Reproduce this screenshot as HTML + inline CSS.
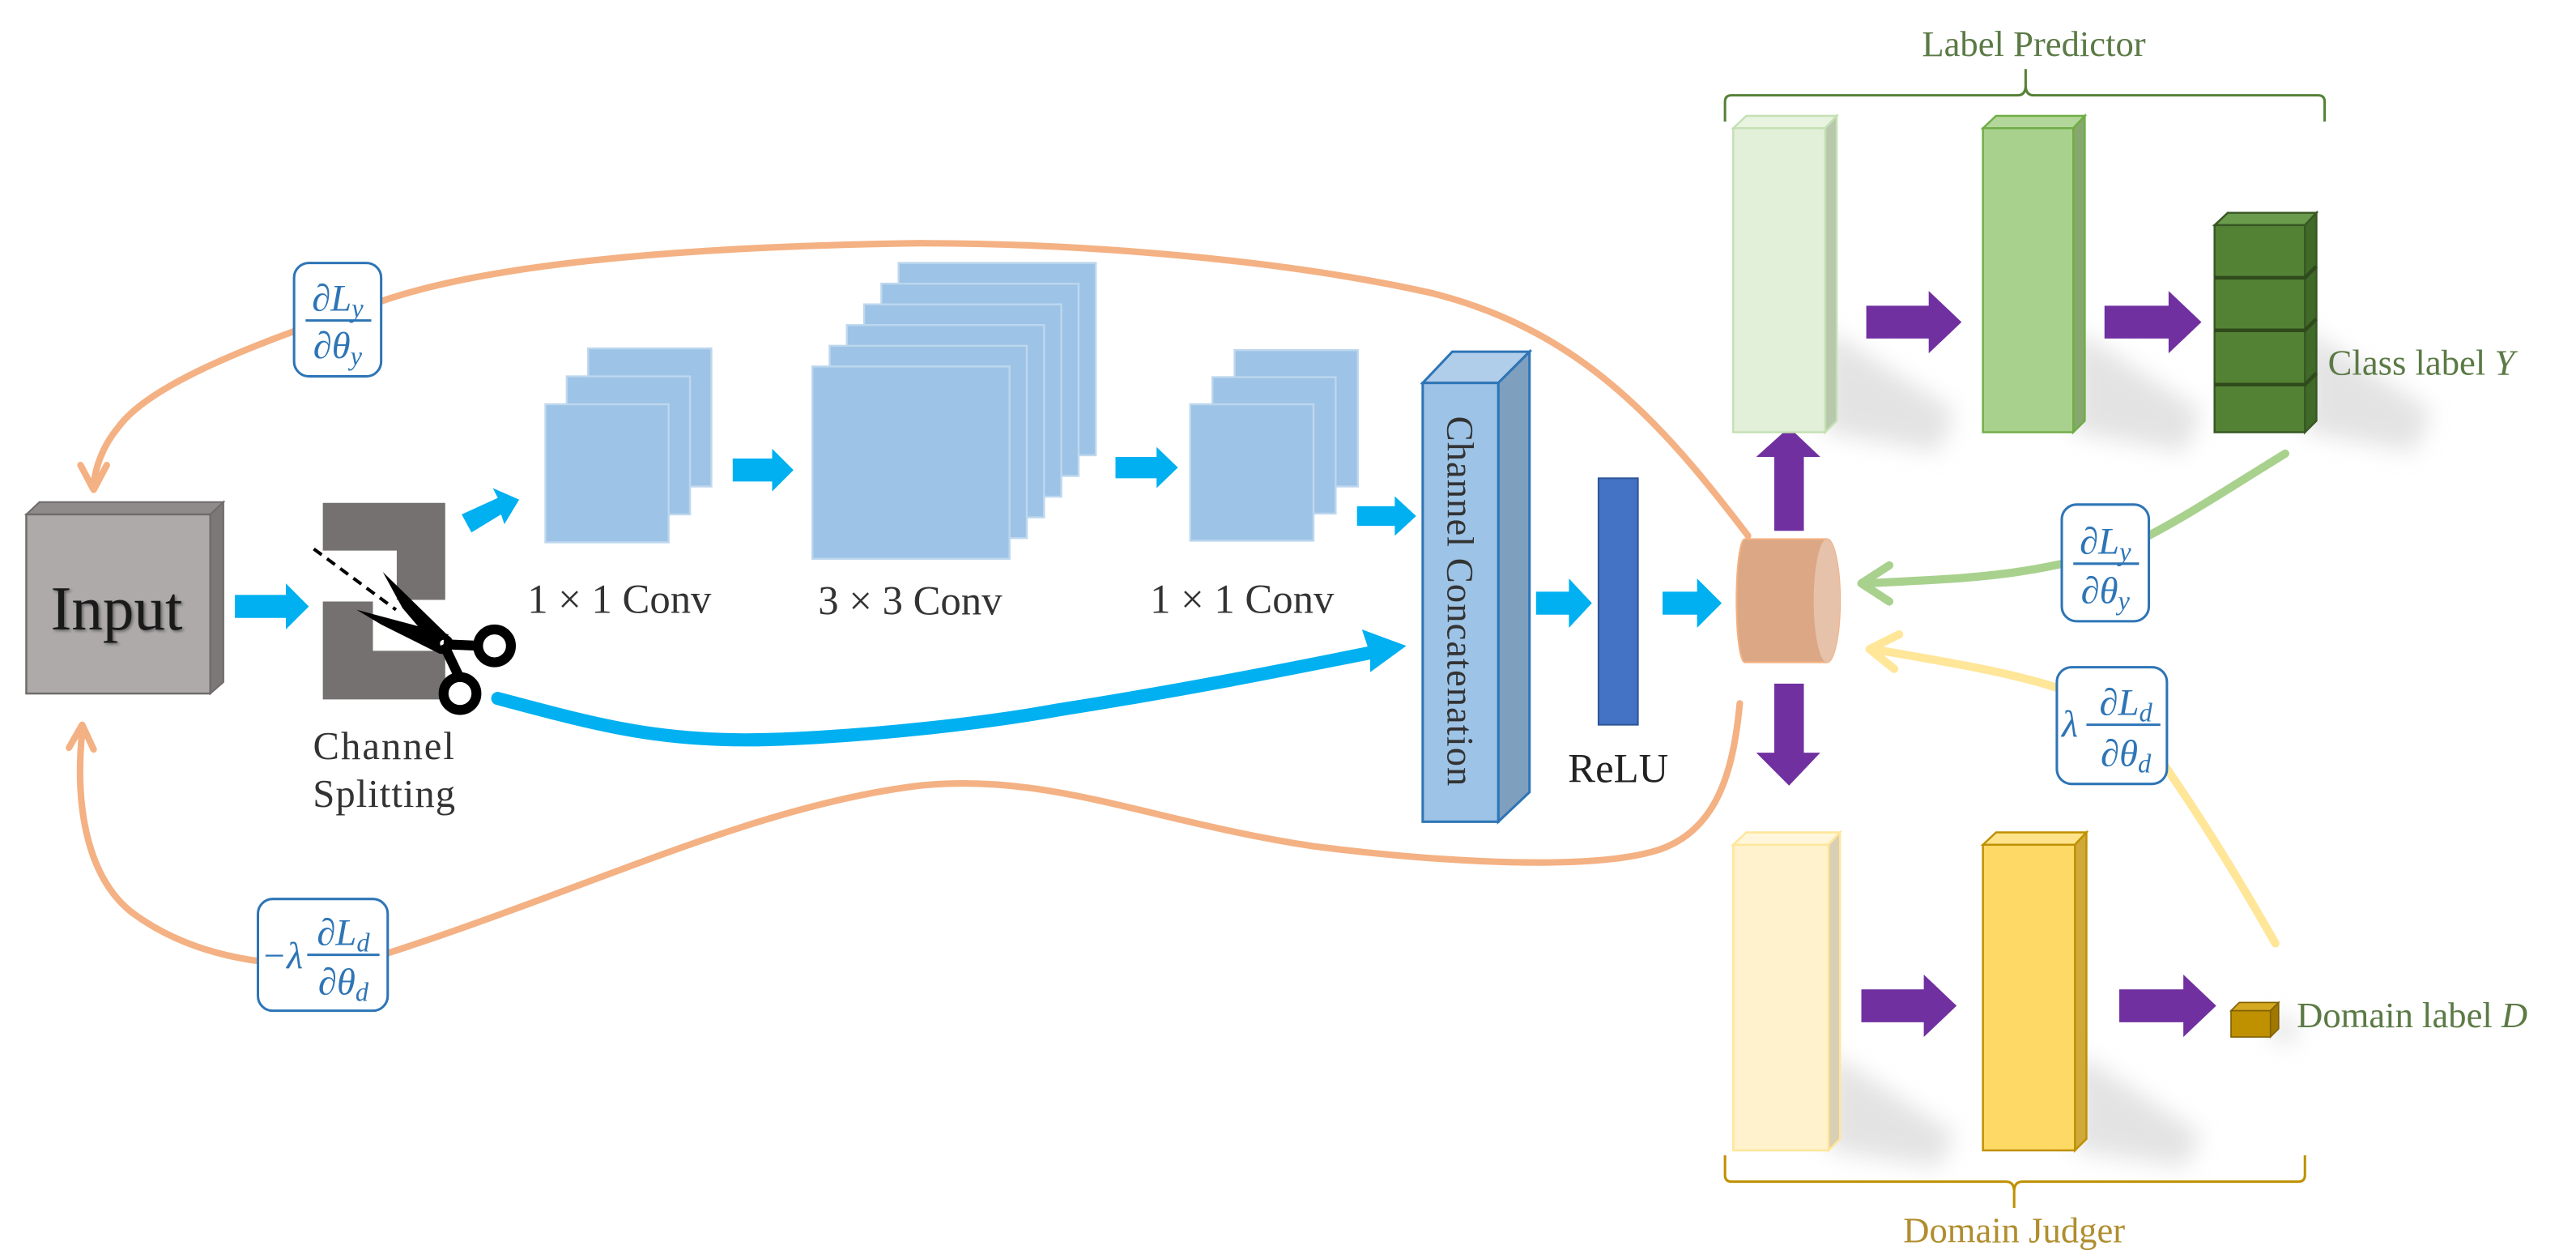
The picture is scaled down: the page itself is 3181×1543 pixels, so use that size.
<!DOCTYPE html>
<html><head><meta charset="utf-8"><style>html,body{margin:0;padding:0;background:#fff}svg{display:block}</style></head>
<body>
<svg width="3181" height="1543" viewBox="0 0 1568 760.6" preserveAspectRatio="none" xmlns="http://www.w3.org/2000/svg" font-family="Liberation Serif, serif">
<defs>
<filter id="bl" x="-50%" y="-50%" width="200%" height="200%"><feGaussianBlur stdDeviation="7"/></filter>
<filter id="ts"><feGaussianBlur stdDeviation="0.8"/></filter>
</defs>
<rect width="1568" height="760.6" fill="#fff"/>

<!-- shadows -->
<g fill="#c8c8c8" opacity="0.5" filter="url(#bl)">
<polygon points="1111,263 1111,200 1190,250 1180,275"/>
<polygon points="1262,263 1262,200 1340,250 1330,275"/>
<polygon points="1403,263 1403,200 1480,250 1470,275"/>
<polygon points="1113,700 1113,640 1190,690 1180,710"/>
<polygon points="1263,700 1263,640 1340,690 1330,710"/>
<polygon points="1382,631 1382,615 1400,625 1395,636"/>
</g>

<!-- orange feedback curves -->
<g fill="none" stroke="#f4b183" stroke-width="4" stroke-linecap="round">
<path d="M1064,326 C1010,255 960,200 870,178 C780,158 660,148 560,148 C420,150 300,160 233,183 C150,210 90,235 72,260 C62,272 58,285 57,295"/>
<path d="M1059,428 C1055,470 1045,505 1010,517 C970,530 880,525 800,515 C700,500 640,470 560,478 C460,490 360,540 236,580 C180,594 120,585 80,555 C55,535 45,495 50,445"/>
</g>
<g fill="none" stroke="#f4b183" stroke-width="4" stroke-linecap="round" stroke-linejoin="round">
<polyline points="49,283 57,298 65,283"/>
<polyline points="42,455 50,441 57,456"/>
</g>

<!-- green & yellow feedback -->
<path d="M1391,276 C1360,295 1330,315 1300,330 C1240,352 1190,352 1135,355" fill="none" stroke="#a9d18e" stroke-width="5" stroke-linecap="round"/>
<polyline points="1150,344 1133,355 1150,366" fill="none" stroke="#a9d18e" stroke-width="5" stroke-linecap="round" stroke-linejoin="round"/>
<path d="M1385,574 C1360,530 1335,490 1310,455 C1280,420 1240,412 1140,395" fill="none" stroke="#ffe699" stroke-width="5" stroke-linecap="round"/>
<polyline points="1156,386 1138,395 1153,407" fill="none" stroke="#ffe699" stroke-width="5" stroke-linecap="round" stroke-linejoin="round"/>

<!-- Input -->
<polygon points="16,313 24,305.5 136,305.5 128,313" fill="#8f8b8b" stroke="#6f6b6b" stroke-width="1"/>
<polygon points="128,313 136,305.5 136,415 128,422" fill="#7c7878" stroke="#6f6b6b" stroke-width="1"/>
<rect x="16" y="313" width="112" height="109" fill="#aeaaaa" stroke="#6f6b6b" stroke-width="1.2"/>
<text x="72" y="384" font-size="38" text-anchor="middle" fill="#222" filter="url(#ts)" opacity="0.5">Input</text>
<text x="71" y="383" font-size="38" text-anchor="middle" fill="#1a1a1a">Input</text>

<!-- blue arrows (horizontal) -->
<g fill="#00b0f0">
<polygon points="143,362 174,362 174,355 188,369 174,383 174,376 143,376"/>
<polygon points="446,279 470,279 470,273 483,286 470,299 470,293 446,293"/>
<polygon points="679,278 704,278 704,272 717,284.5 704,297 704,291 679,291"/>
<polygon points="826,308 849,308 849,302 862,314 849,326 849,320 826,320"/>
<polygon points="935,360 955,360 955,352 969,367 955,382 955,374 935,374"/>
<polygon points="1012,360 1033,360 1033,352 1048,367 1033,382 1033,374 1012,374"/>
<polygon points="281,313 303,303 300,297 316,304 307,319 305,313 287,324"/>
</g>
<!-- blue skip curve -->
<path d="M303,425 C360,440 400,452 468,450 C530,448 600,440 644,432 C720,420 780,408 835,397" fill="none" stroke="#00b0f0" stroke-width="8" stroke-linecap="round"/>
<polygon points="856,393 829,383 834,398 834,409" fill="#00b0f0"/>

<!-- Channel splitting -->
<path d="M196.5,306 H271 V365 H241.5 V335 H196.5 Z" fill="#767171"/>
<path d="M196.5,366 H227 V396 H271 V425.6 H196.5 Z" fill="#767171"/>
<line x1="191" y1="334" x2="241" y2="371" stroke="#000" stroke-width="2" stroke-dasharray="6,4"/>
<g fill="#000">
<polygon points="233,348 275,389 268,397 245,370"/>
<polygon points="217,371 273,386 268,398 232,380"/>
<circle cx="270" cy="392" r="6"/>
</g>
<circle cx="270" cy="391.5" r="2.2" fill="#fff"/>
<line x1="270" y1="392" x2="293" y2="393" stroke="#000" stroke-width="6"/>
<line x1="270" y1="392" x2="280" y2="413" stroke="#000" stroke-width="6"/>
<circle cx="301" cy="393" r="10" fill="none" stroke="#000" stroke-width="6"/>
<circle cx="280" cy="422" r="10" fill="none" stroke="#000" stroke-width="6"/>
<text x="234" y="462" font-size="24" text-anchor="middle" fill="#333" letter-spacing="1">Channel</text>
<text x="234" y="491" font-size="24" text-anchor="middle" fill="#333" letter-spacing="0.5">Splitting</text>

<!-- conv stacks -->
<g fill="#9dc3e6" stroke="#bdd7ee" stroke-width="1.2">
<rect x="358" y="212" width="75" height="84"/>
<rect x="345" y="229" width="75" height="84"/>
<rect x="332" y="246" width="75" height="84"/>

<rect x="547" y="160" width="120" height="117"/>
<rect x="536.5" y="172.6" width="120" height="117"/>
<rect x="526" y="185.2" width="120" height="117"/>
<rect x="515.5" y="197.8" width="120" height="117"/>
<rect x="505" y="210.4" width="120" height="117"/>
<rect x="494.5" y="223" width="120" height="117"/>

<rect x="751.5" y="213" width="75" height="83"/>
<rect x="738" y="229.5" width="75" height="83"/>
<rect x="724.5" y="246" width="75" height="83"/>
</g>
<g font-size="25" fill="#333" text-anchor="middle">
<text x="377" y="373">1 × 1 Conv</text>
<text x="554" y="374">3 × 3 Conv</text>
<text x="756" y="373">1 × 1 Conv</text>
</g>

<!-- Channel Concatenation -->
<polygon points="866,233 884,214 931,214 912,233" fill="#b0cdea" stroke="#2e75b6" stroke-width="1.5"/>
<polygon points="912,233 931,214 931,482 912,500" fill="#7f9fbf" stroke="#2e75b6" stroke-width="1.5"/>
<rect x="866" y="233" width="46" height="267" fill="#9dc3e6" stroke="#2e75b6" stroke-width="1.5"/>
<text transform="translate(881,366) rotate(90)" font-size="23" text-anchor="middle" fill="#333" letter-spacing="0.5">Channel Concatenation</text>

<!-- ReLU -->
<rect x="973" y="291" width="24" height="150" fill="#4472c4" stroke="#2f5597" stroke-width="1"/>
<text x="985" y="476" font-size="25" text-anchor="middle" fill="#222">ReLU</text>

<!-- cylinder -->
<path d="M1062,328 H1112 A8,37.5 0 0 1 1112,403 H1062 A5,37.5 0 0 1 1062,328 Z" fill="#dba785" stroke="#f4b183" stroke-width="1"/>
<ellipse cx="1112" cy="365.5" rx="8" ry="37.5" fill="#e6c2ab"/>

<!-- purple arrows -->
<g fill="#7030a0">
<polygon points="1080,323 1080,278 1069,278 1089,260 1108,278 1098,278 1098,323"/>
<polygon points="1080,416 1080,458 1069,458 1089,478 1108,458 1098,458 1098,416"/>
<polygon points="1136,186 1174,186 1174,177 1194,196 1174,215 1174,206 1136,206"/>
<polygon points="1281,186 1320,186 1320,177 1340,196 1320,215 1320,206 1281,206"/>
<polygon points="1133,602 1171,602 1171,593 1191,612 1171,631 1171,622 1133,622"/>
<polygon points="1290,602 1329,602 1329,593 1349,612 1329,631 1329,622 1290,622"/>
</g>

<!-- green boxes -->
<polygon points="1055,78 1063,70.5 1118,70.5 1111,78" fill="#e8f3e0" stroke="#c5e0b4" stroke-width="1.2"/>
<polygon points="1111,78 1118,70.5 1118,256 1111,263" fill="#b8c8ac" stroke="#c5e0b4" stroke-width="1.2"/>
<rect x="1055" y="78" width="56" height="185" fill="#e2efd9" stroke="#c5e0b4" stroke-width="1.2"/>

<polygon points="1207,78 1215,70.5 1269,70.5 1262,78" fill="#b3d69b" stroke="#70ad47" stroke-width="1.2"/>
<polygon points="1262,78 1269,70.5 1269,256 1262,263" fill="#86a86e" stroke="#70ad47" stroke-width="1.2"/>
<rect x="1207" y="78" width="55" height="185" fill="#a9d18e" stroke="#70ad47" stroke-width="1.2"/>

<polygon points="1348,137 1356,129.5 1410,129.5 1403,137" fill="#6a9a4c" stroke="#385723" stroke-width="1.2"/>
<polygon points="1403,137 1410,129.5 1410,256 1403,263" fill="#3f6a27" stroke="#385723" stroke-width="1.2"/>
<rect x="1348" y="137" width="55" height="126" fill="#548235" stroke="#385723" stroke-width="1.2"/>
<g stroke="#2f4a1c" stroke-width="2.2" fill="none">
<polyline points="1348,169 1403,169 1410,162"/>
<polyline points="1348,201 1403,201 1410,194"/>
<polyline points="1348,234 1403,234 1410,227"/>
</g>

<!-- yellow boxes -->
<polygon points="1055,514 1063,506.5 1120,506.5 1113,514" fill="#fff6dc" stroke="#ffe699" stroke-width="1.2"/>
<polygon points="1113,514 1120,506.5 1120,693 1113,700" fill="#d8cfb4" stroke="#ffe699" stroke-width="1.2"/>
<rect x="1055" y="514" width="58" height="186" fill="#fff2cc" stroke="#ffe699" stroke-width="1.2"/>

<polygon points="1207,514 1215,506.5 1270,506.5 1263,514" fill="#ffe38a" stroke="#bf9000" stroke-width="1.2"/>
<polygon points="1263,514 1270,506.5 1270,693 1263,700" fill="#cfa93a" stroke="#bf9000" stroke-width="1.2"/>
<rect x="1207" y="514" width="56" height="186" fill="#ffd966" stroke="#bf9000" stroke-width="1.2"/>

<polygon points="1358,615 1363,610 1387,610 1382,615" fill="#d4a820" stroke="#7f6000" stroke-width="0.8"/>
<polygon points="1382,615 1387,610 1387,626 1382,631" fill="#a07800" stroke="#7f6000" stroke-width="0.8"/>
<rect x="1358" y="615" width="24" height="16" fill="#bf9000" stroke="#7f6000" stroke-width="0.8"/>

<!-- brackets -->
<path d="M1050,74 V62 Q1050,58 1054,58 H1228 Q1233,58 1233,52 V42 M1233,52 Q1233,58 1238,58 H1411 Q1415,58 1415,62 V74" fill="none" stroke="#548235" stroke-width="1.5"/>
<path d="M1050,703 V715 Q1050,719 1054,719 H1221 Q1226,719 1226,725 V735 M1226,725 Q1226,719 1231,719 H1399 Q1403,719 1403,715 V703" fill="none" stroke="#bf9000" stroke-width="1.5"/>

<text x="1238" y="34" font-size="22" text-anchor="middle" fill="#5b7a45">Label Predictor</text>
<text x="1226" y="756" font-size="22" text-anchor="middle" fill="#b08d2e">Domain Judger</text>
<text x="1417" y="228" font-size="22" fill="#5b7a45">Class label <tspan font-style="italic">Y</tspan></text>
<text x="1398" y="625" font-size="22" fill="#5b7a45">Domain label <tspan font-style="italic">D</tspan></text>

<!-- math boxes -->
<g fill="#fff" stroke="#2e75b6" stroke-width="1.5">
<rect x="179" y="160" width="53" height="69" rx="9"/>
<rect x="1255" y="307" width="53" height="71" rx="9"/>
<rect x="1252" y="406" width="67" height="71" rx="9"/>
<rect x="157" y="547" width="79" height="68" rx="9"/>
</g>
<g fill="#2e75b6" font-style="italic" font-size="23">
<text x="205.5" y="189" text-anchor="middle">∂L<tspan font-size="16" dy="4">y</tspan></text>
<line x1="186" y1="195" x2="226" y2="195" stroke="#2e75b6" stroke-width="1.5"/>
<text x="205.5" y="218" text-anchor="middle">∂θ<tspan font-size="16" dy="4">y</tspan></text>

<text x="1281.5" y="337" text-anchor="middle">∂L<tspan font-size="16" dy="4">y</tspan></text>
<line x1="1262" y1="343" x2="1302" y2="343" stroke="#2e75b6" stroke-width="1.5"/>
<text x="1281.5" y="367" text-anchor="middle">∂θ<tspan font-size="16" dy="4">y</tspan></text>

<text x="1255" y="448">λ</text>
<text x="1294" y="435" text-anchor="middle">∂L<tspan font-size="16" dy="4">d</tspan></text>
<line x1="1270" y1="441" x2="1315" y2="441" stroke="#2e75b6" stroke-width="1.5"/>
<text x="1294" y="466" text-anchor="middle">∂θ<tspan font-size="16" dy="4">d</tspan></text>

<text x="159" y="589">−λ</text>
<text x="209" y="575" text-anchor="middle">∂L<tspan font-size="16" dy="4">d</tspan></text>
<line x1="187" y1="581" x2="231" y2="581" stroke="#2e75b6" stroke-width="1.5"/>
<text x="209" y="605" text-anchor="middle">∂θ<tspan font-size="16" dy="4">d</tspan></text>
</g>
</svg>
</body></html>
